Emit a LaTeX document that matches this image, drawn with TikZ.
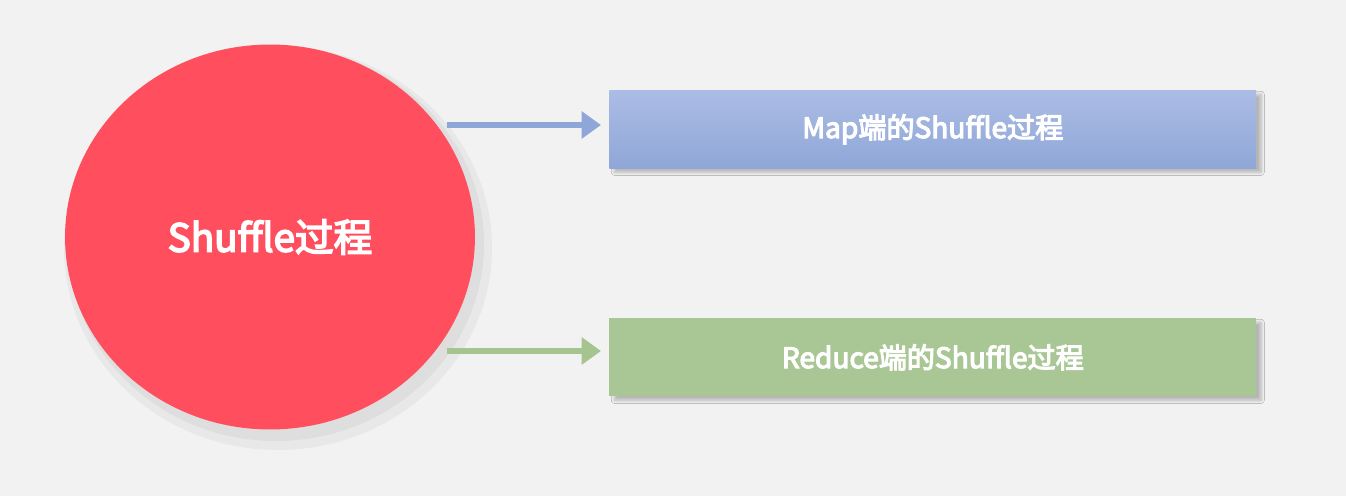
\documentclass[tikz,border=0pt]{standalone}
\usepackage{fontspec}
\newfontfamily\cjk[FakeBold=4]{Noto Sans CJK SC}
\usetikzlibrary{shadows.blur,arrows.meta,shapes.geometric}
\definecolor{bg}{HTML}{F2F2F2}
\definecolor{red1}{HTML}{FF4F5E}
\definecolor{blue1}{HTML}{9DB0E0}
\definecolor{blue2}{HTML}{8FA7D8}
\definecolor{green1}{HTML}{A9C795}
\definecolor{green2}{HTML}{A6C48F}
\tikzset{
  box/.style={minimum width=12.94cm, minimum height=1.56cm, anchor=north west, inner sep=0pt, text=white, font=\cjk\fontsize{16}{18}\selectfont, blur shadow={shadow xshift=0.1cm, shadow yshift=-0.08cm, shadow blur steps=8, shadow opacity=25}},
  conn/.style={line width=3.6pt, -{Triangle[length=11pt,width=15pt]}}
}
\begin{document}
\begin{tikzpicture}[x=0.02cm,y=-0.02cm]
\fill[bg] (0,0) rectangle (1346,496);
\useasboundingbox (0,0) rectangle (1346,496);
\fill[black,opacity=0.04] (278,248) ellipse [x radius=214, y radius=202];
\fill[black,opacity=0.04] (276,244) ellipse [x radius=208, y radius=197];
\node[ellipse, draw=none, fill=red1, minimum width=8.2cm, minimum height=7.7cm, inner sep=0pt, text=white, font=\cjk\fontsize{22}{26}\selectfont] (s) at (270,237) {Shuffle过程};
\node[box, top color=blue1!85!white, bottom color=blue2] (m) at (609,90) {Map端的Shuffle过程};
\node[box, fill=green1] (r) at (609,318) {Reduce端的Shuffle过程};
\coordinate (a1) at (447,125);
\coordinate (a2) at (447,351);
\draw[conn, blue2] (a1) -- ([xshift=-0.16cm]a1 -| m.west);
\draw[conn, green2] (a2) -- ([xshift=-0.16cm]a2 -| r.west);
\end{tikzpicture}
\end{document}
